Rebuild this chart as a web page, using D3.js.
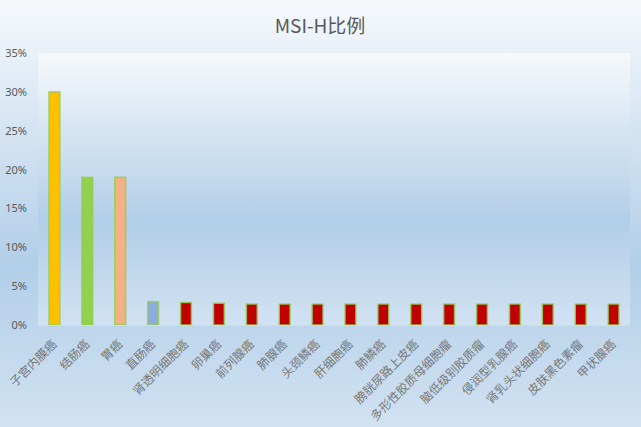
<!DOCTYPE html>
<html><head><meta charset="utf-8">
<script src="https://cdn.jsdelivr.net/npm/d3@7/dist/d3.min.js"></script>
<style>body{margin:0;padding:0;overflow:hidden}svg{display:block}</style>
</head><body>
<script>
const categories = ["子宫内膜癌","结肠癌","胃癌","直肠癌","肾透明细胞癌","卵巢癌","前列腺癌","肺腺癌","头颈鳞癌","肝细胞癌","肺鳞癌","膀胱尿路上皮癌","多形性胶质母细胞瘤","脑低级别胶质瘤","侵润型乳腺癌","肾乳头状细胞癌","皮肤黑色素瘤","甲状腺癌"];
const values = [0.30,0.19,0.19,0.030,0.029,0.028,0.027,0.027,0.027,0.027,0.027,0.027,0.027,0.027,0.027,0.027,0.027,0.027];
const barColors = ["#ffc000","#92d050","#f4b183","#8faadc","#c00000","#c00000","#c00000","#c00000","#c00000","#c00000","#c00000","#c00000","#c00000","#c00000","#c00000","#c00000","#c00000","#c00000"];
const yTicks = [0,0.05,0.10,0.15,0.20,0.25,0.30,0.35];
const title = "MSI-H比例";

const W = 641, H = 427;
const m = {left:38, right:11, top:53, bottom:102};
const svg = d3.select("body").append("svg").attr("width",W).attr("height",H);
const defs = svg.append("defs");
function grad(id){
  const g = defs.append("linearGradient").attr("id",id).attr("x1",0).attr("y1",0).attr("x2",0).attr("y2",1);
  g.append("stop").attr("offset","0").attr("stop-color","#f6f9fc");
  g.append("stop").attr("offset","0.62").attr("stop-color","#b2cee8");
  g.append("stop").attr("offset","1").attr("stop-color","#d1e2f2");
}
grad("bg"); grad("pa");
svg.append("rect").attr("width",W).attr("height",H).attr("fill","url(#bg)");

const x = d3.scaleBand().domain(categories).range([m.left, W-m.right]).paddingInner(0.67).paddingOuter(0.335);
const y = d3.scaleLinear().domain([0,0.35]).range([H-m.bottom, m.top]);

svg.append("rect").attr("x",m.left).attr("y",m.top).attr("width",W-m.right-m.left).attr("height",H-m.bottom-m.top).attr("fill","url(#pa)");

svg.append("text").attr("x",320).attr("y",33).attr("text-anchor","middle")
  .attr("font-family","'Noto Sans CJK SC','Noto Sans',sans-serif").attr("font-size",19).attr("fill","#595959").text(title);

const yAxis = d3.axisLeft(y).tickValues(yTicks).tickFormat(d3.format(".0%")).tickSize(0).tickPadding(11);
const ya = svg.append("g").attr("transform",`translate(${m.left},0)`).call(yAxis);
ya.select(".domain").remove();
ya.selectAll("text").attr("font-family","'Noto Sans','Open Sans',sans-serif").attr("font-size",11).attr("fill","#595959");

svg.append("g").selectAll("rect").data(categories).join("rect")
  .attr("x",d=>x(d)).attr("width",x.bandwidth())
  .attr("y",(d,i)=>y(values[i])).attr("height",(d,i)=>y(0)-y(values[i]))
  .attr("fill",(d,i)=>barColors[i]).attr("stroke","#92d050").attr("stroke-opacity",0.85).attr("stroke-width",1.5);

const xAxis = d3.axisBottom(x).tickSize(0).tickPadding(0);
const xa = svg.append("g").attr("transform",`translate(0,${y(0)})`).call(xAxis);
xa.select(".domain").attr("stroke","#d9d9d9").attr("stroke-width",1.2);
xa.selectAll("text")
  .attr("font-family","'Noto Sans CJK SC',sans-serif").attr("font-size",12).attr("fill","#777777")
  .attr("text-anchor","end").attr("dy",0).attr("y",0)
  .attr("transform","translate(3,20) rotate(-45)");
</script>
</body></html>
